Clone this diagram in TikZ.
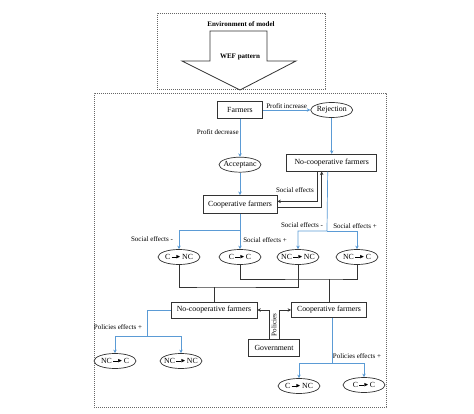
\documentclass[tikz,border=0pt]{standalone}
\usepackage{fontspec}
\setmainfont{Liberation Serif}
\usepackage{amssymb}
\usepackage{graphicx}
\usetikzlibrary{positioning, arrows.meta, shapes.geometric}
\definecolor{flowblue}{HTML}{5B9BD5}
\definecolor{linegray}{HTML}{333333}
\newcommand{\goes}{\,\rule[2.3pt]{5pt}{0.6pt}\kern-0.6pt\raisebox{0.7pt}{\scalebox{0.7}{$\blacktriangleright$}}\,}

\begin{document}
\begin{tikzpicture}[x=1pt, y=-1pt, font=\fontsize{7.8}{9}\selectfont,
  box/.style={draw=linegray, line width=0.7pt, fill=white, inner sep=0pt, minimum height=17pt},
  oval/.style={ellipse, draw=linegray, line width=0.7pt, fill=white, inner xsep=-4pt, inner ysep=0pt,
    minimum width=42pt, minimum height=15pt},
  lbl/.style={font=\fontsize{7}{8}\selectfont, inner sep=1pt},
  flow/.style={draw=flowblue, line width=0.7pt, -{Stealth[length=3.5pt, width=3.5pt]}},
  link/.style={draw=linegray, line width=0.7pt},
  frame/.style={draw=black!60, line width=0.5pt, dash pattern=on 1.2pt off 0.8pt}]
  \useasboundingbox (0,0) rectangle (474,414);

  % environment frame and WEF arrow
  \node (env) [frame, minimum width=168pt, minimum height=76pt] at (241,51) {};
  \node (model) [frame, minimum width=292pt, minimum height=314pt] at (240,250) {};
  \node (envtxt) [font=\fontsize{7}{8}\selectfont\bfseries] at (241,24) {Environment of model};
  \draw[draw=linegray, line width=0.8pt, fill=white] (210,31) -- (267,31) -- (267,61) -- (296,61)
    -- (240,90) -- (182,61) -- (210,61) -- cycle;
  \node (wef) [font=\fontsize{7}{8}\selectfont\bfseries] at (240,57) {WEF pattern};

  % decision of the farmers
  \node (farmers) [box, minimum width=45pt] at (240,110) {Farmers};
  \node (rejection) [oval, right=47.5pt of farmers] {Rejection};
  \node (acceptanc) [oval, below=38pt of farmers] {Acceptanc};
  \node (nocoop) [box, minimum width=90pt, below=36pt of rejection] {No-cooperative farmers};
  \node (coop) [box, minimum width=74pt, minimum height=18pt, below=22.5pt of acceptanc] {Cooperative farmers};
  \draw[flow] (farmers) -- node[lbl, above] (pinc) {Profit increase} (rejection);
  \draw[flow] (farmers) -- node[lbl, left, pos=0.35] (pdec) {Profit decrease} (acceptanc);
  \draw[flow] (rejection) -- (nocoop);
  \draw[flow] (acceptanc) -- (coop);

  % social effects between the two groups
  \draw[link, -{Stealth[length=3.5pt, width=3.5pt]}] ([yshift=-3pt]coop.east) -| ([xshift=-10pt]nocoop.south);
  \draw[link, -{Stealth[length=3.5pt, width=3.5pt]}] ([xshift=-14pt]nocoop.south) |- ([yshift=3pt]coop.east);
  \node (social) [lbl, anchor=south east] at (315,194) {Social effects};

  % transitions after social effects
  \node (cnc1) [oval] at (179,257) {C\goes NC};
  \node (cc1) [oval] at (240,257) {C\goes C};
  \node (ncnc1) [oval] at (298,257) {NC\goes NC};
  \node (ncc1) [oval] at (357,257) {NC\goes C};
  \coordinate (b1) at (240,230);
  \coordinate (b2) at (327,231);
  \draw[flow] (coop) -- (b1) -| (cnc1);
  \draw[flow] (b1) -- (cc1);
  \draw[flow] ([xshift=-4pt]nocoop.south) -- (b2) -| (ncnc1);
  \draw[flow] (b2) -| (ncc1);
  \node (sem1) [lbl] at (152,239) {Social effects -};
  \node (sep1) [lbl] at (265,240) {Social effects +};
  \node (sem2) [lbl] at (302,225) {Social effects -};
  \node (sep2) [lbl] at (355,226) {Social effects +};

  % regrouping
  \node (nocoop2) [box, minimum width=86pt, minimum height=16pt] at (214,310) {No-cooperative farmers};
  \node (coop2) [box, minimum width=75pt, minimum height=15pt] at (329,310) {Cooperative farmers};
  \node (gov) [box, minimum width=51pt] at (274,348) {Government};
  \coordinate (j1) at (214,287);
  \coordinate (j2) at (329,279);
  \draw[link] (cnc1) |- (j1) -| (ncnc1);
  \draw[link] (j1) -- (nocoop2);
  \draw[link] (cc1) |- (j2) -| (ncc1);
  \draw[link] (j2) -- (coop2);

  % policies of the government
  \draw[link, -{Stealth[length=3.5pt, width=3.5pt]}] ([xshift=-5pt]gov.north) |- (nocoop2.east);
  \draw[link, -{Stealth[length=3.5pt, width=3.5pt]}] ([xshift=5pt]gov.north) |- (coop2.west);
  \node (pol) [lbl, rotate=90] at (274,325) {Policies};

  % transitions after policies
  \node (ncc2) [oval] at (115,361) {NC\goes C};
  \node (ncnc2) [oval] at (181,361) {NC\goes NC};
  \node (cnc2) [oval] at (299,386) {C\goes NC};
  \node (cc2) [oval] at (364,385) {C\goes C};
  \coordinate (b3) at (147,336);
  \coordinate (b4) at (332,363);
  \draw[flow] (nocoop2.west) -| (b3) -| (ncc2);
  \draw[flow] (b3) -| (ncnc2);
  \draw[flow] ([xshift=3pt]coop2.south) -- (b4) -| (cnc2);
  \draw[flow] (b4) -| (cc2);
  \node (pe1) [lbl] at (118,327) {Policies effects +};
  \node (pe2) [lbl] at (357,356) {Policies effects +};
\end{tikzpicture}
\end{document}
